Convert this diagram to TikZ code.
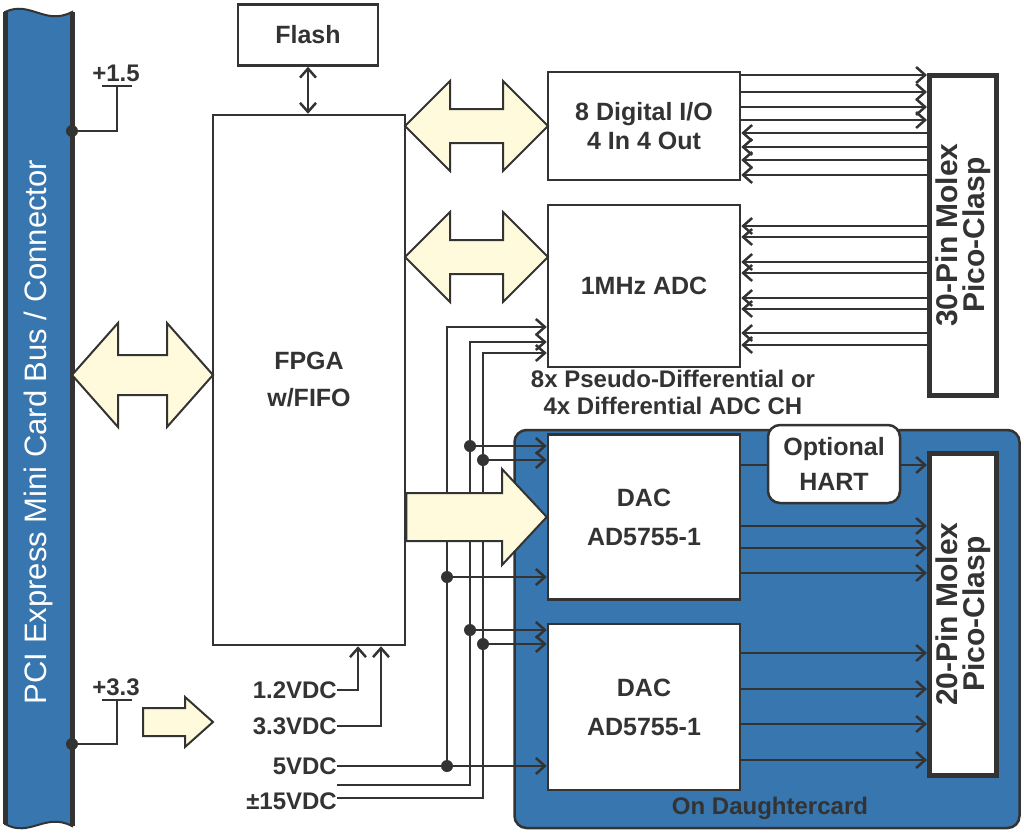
\documentclass[tikz,border=0pt]{standalone}
\usepackage{fontspec}
\setmainfont{Liberation Sans}
\usetikzlibrary{arrows.meta,positioning}
\definecolor{cardblue}{RGB}{55,118,174}
\definecolor{cream}{RGB}{255,250,220}
\definecolor{ink}{RGB}{51,51,51}
% big hollow arrow with two heads: x0, x1, y, head length, head half width, shaft half width
\newcommand{\busarrow}[6]{%
  \draw[bigarrow] (#1,#3) -- ++(#4,-#5) -- ++(0,#5-#6) -- (#2-#4,#3-#6) -- ++(0,#6-#5)
    -- (#2,#3) -- ++(-#4,#5) -- ++(0,#6-#5) -- (#1+#4,#3+#6) -- ++(0,#5-#6) -- cycle;}
\begin{document}
\begin{tikzpicture}[x=1pt,y=-1pt,
		box/.style={draw=ink,line width=2.5pt,fill=white,font=\fontsize{25}{29}\selectfont\bfseries,text=ink,align=center,inner sep=0pt},
		conn/.style={draw=ink,line width=5pt,fill=white,inner sep=0pt},
		bigarrow/.style={draw=ink,line width=2pt,fill=cream,line join=miter},
		sig/.style={draw=ink,line width=2.5pt,-{Straight Barb[length=9pt,width=16pt,line width=2.5pt]}},
		wire/.style={draw=ink,line width=2.5pt},
		dot/.style={circle,fill=ink,inner sep=0pt,minimum size=12pt},
		lbl/.style={font=\fontsize{24}{27}\selectfont\bfseries,text=ink,align=center,inner sep=0pt}
		]
		\useasboundingbox (0,0) rectangle (1024,833);

		% daughtercard and bus
		\node[draw=ink,line width=2.5pt,fill=cardblue,rounded corners=12pt,minimum width=505pt,minimum height=398pt](card) at (767,629){};
		\node[lbl] at (770,808){On Daughtercard};
		\draw[ink,line width=2pt,fill=cardblue] (5,12) .. controls (30,0) and (45,26) .. (72,12) -- (72,826) .. controls (45,812) and (30,838) .. (5,824) -- cycle;
		\draw[ink,line width=5pt] (5,12) -- (5,824) (72,12) -- (72,826);
		\node[rotate=90,text=white,font=\fontsize{31}{32}\selectfont](bus) at (38,432){PCI Express Mini Card Bus / Connector};
		\coordinate (busR) at (72,375);

		% blocks
		\node[box,minimum width=140pt,minimum height=61pt](flash) at (308,35){Flash};
		\node[box,minimum width=192pt,minimum height=530pt](fpga) at (309,380){FPGA\\[8pt]w/FIFO};
		\node[box,minimum width=192pt,minimum height=108pt](dio) at (644,126){8 Digital I/O\\4 In 4 Out};
		\node[box,minimum width=192pt,minimum height=162pt](adc) at (644,286){1MHz ADC};
		\node[lbl] at (673,392){8x Pseudo-Differential or\\4x Differential ADC CH};
		\node[box,minimum width=192pt,minimum height=165pt](dac1) at (644,517){DAC\\[10pt]AD5755-1};
		\node[box,minimum width=192pt,minimum height=166pt](dac2) at (644,707){DAC\\[10pt]AD5755-1};
		\node[box,rounded corners=12pt,minimum width=132pt,minimum height=78pt](hart) at (834,464){Optional\\[6pt]HART};
		\node[conn,minimum width=67pt,minimum height=320pt](conA) at (963,235){};
		\node[lbl,rotate=90,font=\fontsize{30}{27}\selectfont\bfseries] at (conA){30-Pin Molex\\Pico-Clasp};
		\node[conn,minimum width=67pt,minimum height=322pt](conB) at (963,614){};
		\node[lbl,rotate=90,font=\fontsize{30}{27}\selectfont\bfseries] at (conB){20-Pin Molex\\Pico-Clasp};

		% busses
		\busarrow{72}{213}{375}{46}{52}{20}
		\busarrow{405}{548}{126}{45}{45}{17}
		\busarrow{405}{548}{257}{45}{45}{17}
		\draw[bigarrow] (143,708) -- (185,708) -- (185,697) -- (213,722) -- (185,747) -- (185,736) -- (143,736) -- cycle;
		\draw[draw=ink,line width=2.5pt,{Straight Barb[length=9pt,width=16pt,line width=2.5pt]}-{Straight Barb[length=9pt,width=16pt,line width=2.5pt]}] (flash) -- (fpga.north -| flash);

		% supply taps
		\node[lbl,anchor=south] (p15) at (116,82){+1.5};
		\node[lbl,anchor=south] (p33) at (116,696){+3.3};
		\draw[wire] (102,86) -- (132,86) (117,86) |- (busR |- 0,131);
		\draw[wire] (102,700) -- (132,700) (117,700) |- (busR |- 0,744);
		\node[dot] at (72,131){};
		\node[dot] at (72,744){};

		% digital I/O and ADC lines
		\foreach \y in {75,92,107,120}
			\draw[sig] (dio.east |- 0,\y) -- (conA.west |- 0,\y);
		\foreach \y in {133,147,160,175}
			\draw[sig] (conA.west |- 0,\y) -- (dio.east |- 0,\y);
		\foreach \y in {226,237,262,273,298,309,333,345}
			\draw[sig] (conA.west |- 0,\y) -- (adc.east |- 0,\y);

		% DAC outputs
		\draw[wire] (dac1.east |- 0,465) -- (hart.west |- 0,465);
		\draw[sig] (hart.east |- 0,465) -- (conB.west |- 0,465);
		\foreach \y in {526,548,573}
			\draw[sig] (dac1.east |- 0,\y) -- (conB.west |- 0,\y);
		\foreach \y in {653,689,724,760}
			\draw[sig] (dac2.east |- 0,\y) -- (conB.west |- 0,\y);

		% power
		\node[lbl,anchor=east](v12) at (337,690){1.2VDC};
		\node[lbl,anchor=east](v33) at (337,726){3.3VDC};
		\node[lbl,anchor=east](v5) at (337,766){5VDC};
		\node[lbl,anchor=east](v15) at (337,801){±15VDC};
		\draw[sig] (v12.east) -| ([xshift=49pt]fpga.south);
		\draw[sig] (v33.east) -| ([xshift=72pt]fpga.south);
		\coordinate (j5) at (447,766);
		\coordinate (ja) at (470,785);
		\coordinate (jb) at (483,798);
		\draw[sig] (v5.east) -- (dac2.west |- j5);
		\draw[sig] (j5) |- (adc.west |- 0,327);
		\draw[sig] (j5 |- 0,577) -- (dac1.west |- 0,577);
		\draw[sig] (v15.east |- ja) -| (ja |- 0,342) -- (adc.west |- 0,342);
		\draw[sig] (v15.east |- jb) -| (jb |- 0,353) -- (adc.west |- 0,353);
		\foreach \j/\a/\b in {ja/446/630,jb/460/644}{
			\draw[sig] (\j |- 0,\a) -- (dac1.west |- 0,\a);
			\draw[sig] (\j |- 0,\b) -- (dac2.west |- 0,\b);
			\node[dot] at (\j |- 0,\a){};
			\node[dot] at (\j |- 0,\b){};
		}
		\node[dot] at (j5){};
		\node[dot] at (j5 |- 0,577){};
		% FPGA to DAC bus on top of the wires
		\draw[bigarrow] (fpga.east |- 0,493) -- (502,493) -- (502,469) -- (dac1.west) -- (502,565) -- (502,541) -- (fpga.east |- 0,541) -- cycle;
	\end{tikzpicture}
\end{document}
